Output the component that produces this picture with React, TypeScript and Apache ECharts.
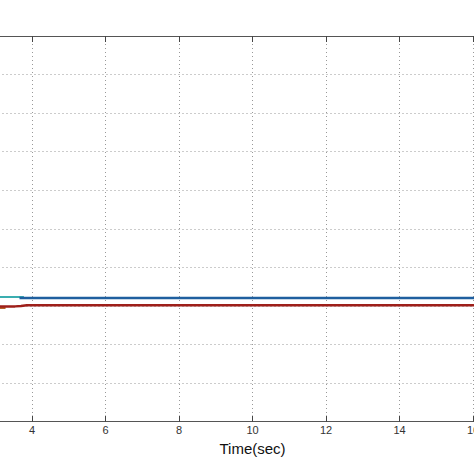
import React, { useEffect, useRef } from "react";
import * as echarts from "echarts";

const xTicks = [2, 18, 2]; // min, max, interval
const cyanRef: [number, number][] = [[2.9, 3.233], [3.78, 3.233]];
const blueOut: [number, number][] = [[3.66, 3.207], [18, 3.207]];
const orangeRef: [number, number][] = [[2.9, 2.95], [3.28, 2.95]];
const redOut: [number, number][] = [
  [2.9, 2.99],
  [3.54, 2.99],
  [3.7, 3.0],
  [3.86, 3.022],
  [18, 3.022],
];

export default function App() {
  const ref = useRef<HTMLDivElement>(null);
  useEffect(() => {
    if (!ref.current) return;
    const chart = echarts.init(ref.current, undefined, { renderer: "svg" });
    const axisLine = { show: true, lineStyle: { color: "#555", width: 1 } };
    chart.setOption({
      animation: false,
      backgroundColor: "#fff",
      grid: { left: 78.5, right: 77.5, top: 36, bottom: 52.3, containLabel: false },
      xAxis: [
        {
          type: "value",
          min: xTicks[0],
          max: xTicks[1],
          interval: xTicks[2],
          position: "bottom",
          axisLine,
          axisTick: { show: true, inside: true, length: 6, lineStyle: { color: "#444" } },
          axisLabel: { color: "#333", fontSize: 11, margin: 3, fontFamily: "Liberation Sans, Arial" },
          splitLine: { show: true, lineStyle: { color: "#999", type: [1, 3], width: 1 } },
          name: "Time(sec)",
          nameLocation: "middle",
          nameGap: 13,
          nameTextStyle: { color: "#111", fontSize: 15, fontFamily: "Liberation Sans, Arial" },
        },
        {
          type: "value",
          min: xTicks[0],
          max: xTicks[1],
          interval: xTicks[2],
          position: "top",
          axisLine,
          axisTick: { show: true, inside: true, length: 6, lineStyle: { color: "#444" } },
          axisLabel: { show: false },
          splitLine: { show: false },
        },
      ],
      yAxis: {
        type: "value",
        min: 0,
        max: 10,
        interval: 1,
        axisLine,
        axisTick: { show: false },
        axisLabel: { show: false },
        splitLine: { show: true, lineStyle: { color: "#999", type: [1, 3], width: 1 } },
      },
      series: [
        { type: "line", data: cyanRef, showSymbol: false, lineStyle: { color: "#3aaeb0", width: 2 } },
        { type: "line", data: blueOut, showSymbol: false, lineStyle: { color: "#1f5f9f", width: 2.5 } },
        { type: "line", data: orangeRef, showSymbol: false, lineStyle: { color: "#b8642a", width: 2 } },
        { type: "line", data: redOut, showSymbol: false, lineStyle: { color: "#9e1f1a", width: 2.5 } },
      ],
    });
    return () => chart.dispose();
  }, []);
  return (
    <div
      style={{
        position: "fixed",
        left: 0,
        top: 0,
        width: 474,
        height: 474,
        overflow: "hidden",
        background: "#fff",
      }}
    >
      <div
        ref={ref}
        style={{ position: "absolute", left: -120, top: 0, width: 744, height: 474 }}
      />
    </div>
  );
}
